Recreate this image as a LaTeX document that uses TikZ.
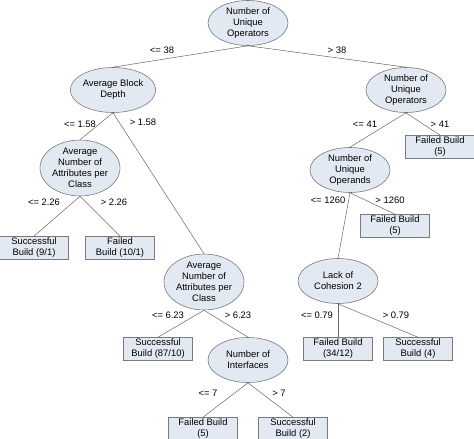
\documentclass[tikz,border=0pt]{standalone}
\usepackage{fontspec}
\setmainfont{Liberation Sans}
\usetikzlibrary{shapes.geometric}
\definecolor{boxfill}{HTML}{E3E9F3}
\definecolor{boxline}{HTML}{7A7A7A}
\begin{document}
\begin{tikzpicture}[x=1pt, y=-1pt, font=\fontsize{9.4}{11}\selectfont,
  tst/.style={ellipse, draw=boxline, line width=0.6pt, fill=boxfill, inner sep=0pt, minimum width=80pt, minimum height=45pt, align=center},
  lf/.style={rectangle, draw=boxline, line width=0.6pt, fill=boxfill, inner sep=0pt, minimum width=69pt, minimum height=23pt, align=center},
  lb/.style={inner sep=0pt, fill=white},
  ed/.style={draw=black!60, line width=0.5pt}]
\useasboundingbox (0,0) rectangle (474,439);
% tests
\node[tst] (uop) at (248,23) {Number of\\Unique\\Operators};
\node[tst] (abd) at (113,90) {Average Block\\Depth};
\node[tst] (uop2) at (406,90) {Number of\\Unique\\Operators};
\node[tst] (atr) at (80,168) {Average\\Number of\\Attributes per\\Class};
\node[tst] (opd) at (350,170) {Number of\\Unique\\Operands};
\node[tst] (atr2) at (204,282) {Average\\Number of\\Attributes per\\Class};
\node[tst] (loc) at (338,281) {Lack of\\Cohesion 2};
\node[tst] (itf) at (248,360) {Number of\\Interfaces};
% leaves
\node[lf] (f1) at (440,147) {Failed Build\\(5)};
\node[lf] (s1) at (34,248) {Successful\\Build (9/1)};
\node[lf] (f2) at (120,248) {Failed\\Build (10/1)};
\node[lf] (f3) at (395,226) {Failed Build\\(5)};
\node[lf] (s2) at (158,349) {Successful\\Build (87/10)};
\node[lf] (f4) at (338,349) {Failed Build\\(34/12)};
\node[lf] (s3) at (418,349) {Successful\\Build (4)};
\node[lf] (f5) at (203,429) {Failed Build\\(5)};
\node[lf] (s4) at (293,429) {Successful\\Build (2)};
% branches
\draw[ed] (uop.south)--(abd.north); \draw[ed] (uop.south)--(uop2.north);
\draw[ed] (abd.south)--(atr.north); \draw[ed] (abd.south)--(atr2.north);
\draw[ed] (uop2.south)--(opd.north); \draw[ed] (uop2.south)--(f1.north);
\draw[ed] (atr.south)--(s1.north); \draw[ed] (atr.south)--(f2.north);
\draw[ed] (opd.south)--(loc.north); \draw[ed] (opd.south)--(f3.north);
\draw[ed] (atr2.south)--(s2.north); \draw[ed] (atr2.south)--(itf.north);
\draw[ed] (loc.south)--(f4.north); \draw[ed] (loc.south)--(s3.north);
\draw[ed] (itf.south)--(f5.north); \draw[ed] (itf.south)--(s4.north);
% labels
\node[lb] (l1) at (162,50) {<= 38};
\node[lb] (l2) at (337,50) {> 38};
\node[lb] (l3) at (80,124) {<= 1.58};
\node[lb] (l4) at (143,122) {> 1.58};
\node[lb] (l5) at (365,124) {<= 41};
\node[lb] (l6) at (440,124) {> 41};
\node[lb] (l7) at (44,202) {<= 2.26};
\node[lb] (l8) at (114,202) {> 2.26};
\node[lb] (l9) at (328,200) {<= 1260};
\node[lb] (l10) at (390,200) {> 1260};
\node[lb] (l11) at (168,315) {<= 6.23};
\node[lb] (l12) at (238,315) {> 6.23};
\node[lb] (l13) at (317,315) {<= 0.79};
\node[lb] (l14) at (396,315) {> 0.79};
\node[lb] (l15) at (208,393) {<= 7};
\node[lb] (l16) at (279,393) {> 7};
\end{tikzpicture}
\end{document}
